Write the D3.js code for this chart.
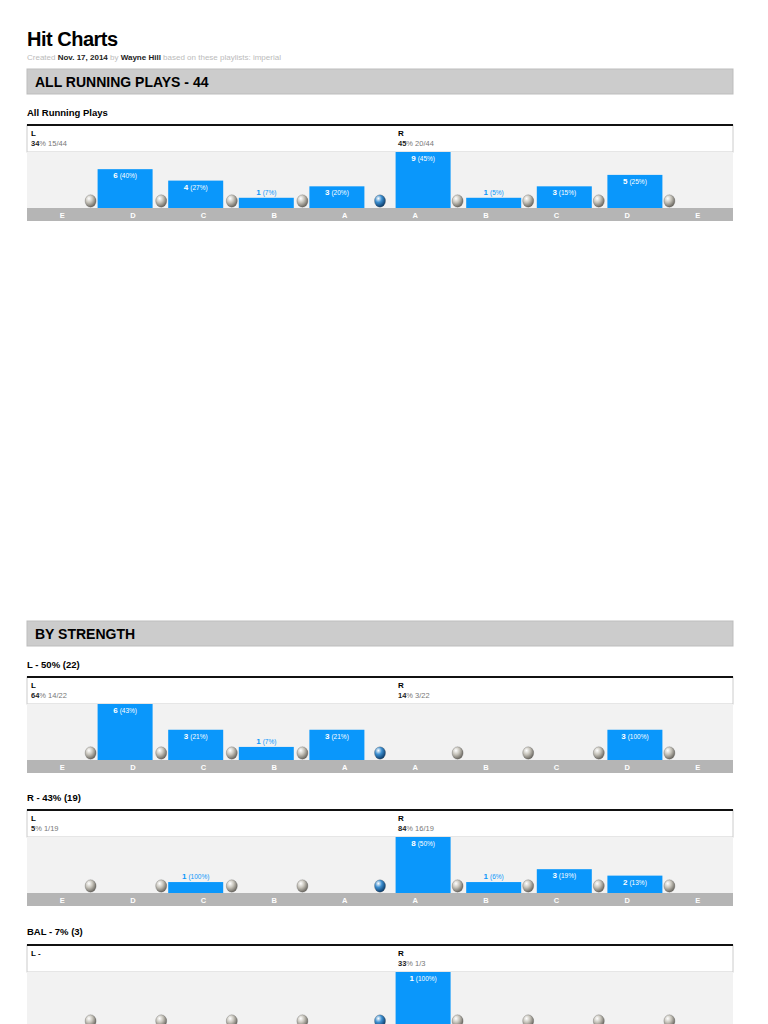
<!DOCTYPE html>
<html><head><meta charset="utf-8">
<script src="https://cdn.jsdelivr.net/npm/d3@7"></script>
<style>body{margin:0;background:#fff;font-family:"Liberation Sans",Arial,sans-serif}</style>
</head><body><div id="page"></div>
<script>
// Hit chart data
const holes = ["E", "D", "C", "B", "A", "A", "B", "C", "D", "E"];
const sides = ["L", "R"];

const chartTitles = ["All Running Plays", "L - 50% (22)", "R - 43% (19)", "BAL - 7% (3)"];
const leftHeaders = [["34", "15/44"], ["64", "14/22"], ["5", "1/19"], null];
const rightHeaders = [["45", "20/44"], ["14", "3/22"], ["84", "16/19"], ["33", "1/3"]];
// counts per hole, in order E D C B A | A B C D E
const counts = [
  [0, 6, 4, 1, 3, 9, 1, 3, 5, 0],
  [0, 6, 3, 1, 3, 0, 0, 0, 3, 0],
  [0, 0, 1, 0, 0, 8, 1, 3, 2, 0],
  [0, 0, 0, 0, 0, 1, 0, 0, 0, 0]
];
const pcts = [
  [0, 40, 27, 7, 20, 45, 5, 15, 25, 0],
  [0, 43, 21, 7, 21, 0, 0, 0, 100, 0],
  [0, 0, 100, 0, 0, 50, 6, 19, 13, 0],
  [0, 0, 0, 0, 0, 100, 0, 0, 0, 0]
];
const chartTops = [125, 677, 810, 945];
const titleYs = [116, 668, 801, 935];

const W = 768, H = 1024, x0 = 27, x1 = 733;
const svg = d3.select("#page").append("svg").attr("width", W).attr("height", H);

const defs = svg.append("defs");
function ballGrad(id, c0, c1) {
  const g = defs.append("radialGradient").attr("id", id).attr("cx", "35%").attr("cy", "30%").attr("r", "70%");
  g.append("stop").attr("offset", "0%").attr("stop-color", "#fff");
  g.append("stop").attr("offset", "45%").attr("stop-color", c0);
  g.append("stop").attr("offset", "100%").attr("stop-color", c1);
}
ballGrad("gball", "#c9c6bd", "#6e6b64");
ballGrad("bball", "#3d8fd0", "#0d3f6e");

// page header
svg.append("text").attr("x", 27).attr("y", 46).attr("font-size", 20).attr("font-weight", "bold")
  .attr("letter-spacing", -0.5).text("Hit Charts");
const sub = svg.append("text").attr("x", 27).attr("y", 60).attr("font-size", 8).attr("fill", "#bbb");
sub.append("tspan").text("Created ");
sub.append("tspan").attr("fill", "#222").attr("font-weight", "bold").text("Nov. 17, 2014");
sub.append("tspan").text(" by ");
sub.append("tspan").attr("fill", "#222").attr("font-weight", "bold").text("Wayne Hill");
sub.append("tspan").text(" based on these playlists: imperial");

function section(y, label) {
  svg.append("rect").attr("x", 27).attr("y", y).attr("width", 706).attr("height", 25)
    .attr("fill", "#ccc").attr("stroke", "#bdbdbd");
  svg.append("text").attr("x", 35).attr("y", y + 18).attr("font-size", 14).attr("font-weight", "bold")
    .text(label);
}
section(69, "ALL RUNNING PLAYS - 44");
section(621, "BY STRENGTH");

const xCol = d3.scaleBand().domain(d3.range(10)).range([x0, x1]);
const barW = 55;

function drawChart(i) {
  const top = chartTops[i];
  const g = svg.append("g");
  g.append("text").attr("x", 27).attr("y", titleYs[i]).attr("font-size", 9.5).attr("font-weight", "bold")
    .text(chartTitles[i]);
  // header
  g.append("rect").attr("x", x0).attr("y", top).attr("width", x1 - x0).attr("height", 27)
    .attr("fill", "#fff").attr("stroke", "#ccc");
  g.append("line").attr("x1", x0).attr("x2", x1).attr("y1", top).attr("y2", top).attr("stroke", "#111").attr("stroke-width", 2);
  const heads = [leftHeaders[i], rightHeaders[i]];
  sides.forEach((s, k) => {
    const hx = k === 0 ? x0 + 4 : xCol(5) + 18;
    const h = heads[k];
    g.append("text").attr("x", hx).attr("y", top + 11).attr("font-size", 8).attr("font-weight", "bold")
      .text(h ? s : s + " -");
    if (h) {
      const t = g.append("text").attr("x", hx).attr("y", top + 21).attr("font-size", 7.5).attr("fill", "#777");
      t.append("tspan").attr("font-weight", "bold").attr("fill", "#222").text(h[0]);
      t.append("tspan").text("% " + h[1]);
    }
  });
  // plot area
  const pTop = top + 27, pBot = pTop + 56;
  g.append("rect").attr("x", x0).attr("y", pTop).attr("width", x1 - x0).attr("height", 56).attr("fill", "#f2f2f2");
  const y = d3.scaleLinear().domain([0, d3.max(counts[i])]).range([pBot - 4.5, pTop]);
  counts[i].forEach((c, j) => {
    if (!c) return;
    const bx = j < 5 ? xCol(j) : xCol(j) + xCol.bandwidth() - barW;
    const by = y(c);
    g.append("rect").attr("x", bx).attr("y", by).attr("width", barW).attr("height", pBot - by).attr("fill", "#0a97fb");
    const small = pBot - by < 14;
    const t = g.append("text").attr("x", bx + barW / 2).attr("y", small ? by - 3 : by + 9)
      .attr("text-anchor", "middle").attr("font-size", 7.5).attr("fill", small ? "#0a97fb" : "#fff");
    t.append("tspan").attr("font-weight", "bold").attr("font-size", 8).text(c);
    t.append("tspan").attr("font-size", 6.5).attr("dx", 2).text("(" + pcts[i][j] + "%)");
  });
  // balls at hole gaps
  d3.range(9).forEach(b => {
    let cx;
    if (b < 4) cx = xCol(b + 1) - 7;
    else if (b === 4) cx = xCol(5);
    else cx = xCol(b) + xCol.bandwidth() + 7;
    g.append("ellipse").attr("cx", cx).attr("cy", pBot - 7).attr("rx", 5.5).attr("ry", 6.2)
      .attr("fill", b === 4 ? "url(#bball)" : "url(#gball)").attr("stroke", "#555").attr("stroke-width", 0.3);
  });
  // hole axis
  g.append("rect").attr("x", x0).attr("y", pBot).attr("width", x1 - x0).attr("height", 13).attr("fill", "#b5b5b5");
  holes.forEach((h, j) => {
    g.append("text").attr("x", xCol(j) + xCol.bandwidth() / 2).attr("y", pBot + 9.5).attr("text-anchor", "middle")
      .attr("font-size", 7.5).attr("fill", "#fff").attr("font-weight", "bold").text(h);
  });
}
d3.range(4).forEach(drawChart);
</script></body></html>
